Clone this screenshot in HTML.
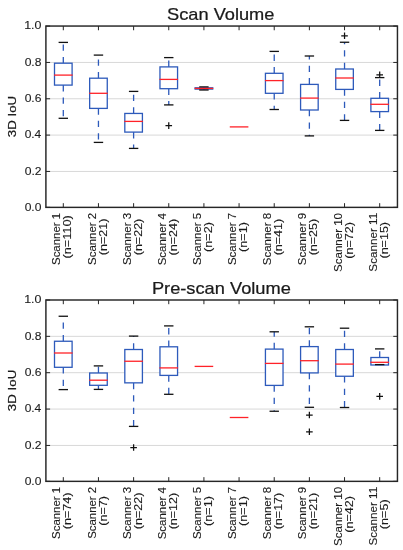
<!DOCTYPE html>
<html><head><meta charset="utf-8"><style>
html,body{margin:0;padding:0;background:#fff;width:403px;height:550px;overflow:hidden}
svg{display:block;will-change:transform;filter:blur(0.3px)}
text{font-family:"Liberation Sans",sans-serif;fill:#1a1a1a;stroke:#1a1a1a;stroke-width:0.1px}
.t{stroke-width:0.24px}
.yl{stroke-width:0.2px}
</style></head><body>
<svg width="403" height="550" viewBox="0 0 403 550">
<rect width="403" height="550" fill="#fff"/>
<line x1="45.9" x2="397.45" y1="62.44" y2="62.44" stroke="#d8d8d8" stroke-width="1"/>
<line x1="45.9" x2="397.45" y1="98.77" y2="98.77" stroke="#d8d8d8" stroke-width="1"/>
<line x1="45.9" x2="397.45" y1="135.10" y2="135.10" stroke="#d8d8d8" stroke-width="1"/>
<line x1="45.9" x2="397.45" y1="171.44" y2="171.44" stroke="#d8d8d8" stroke-width="1"/>
<line x1="63.30" x2="63.30" y1="85.10" y2="118.30" stroke="#2d5abb" stroke-width="1.3" stroke-dasharray="6.3 6.1"/>
<line x1="63.30" x2="63.30" y1="63.20" y2="42.40" stroke="#2d5abb" stroke-width="1.3" stroke-dasharray="6.3 6.1"/>
<rect x="54.50" y="63.20" width="17.6" height="21.90" fill="#fff" stroke="#2d5abb" stroke-width="1.3"/>
<line x1="58.60" x2="68.00" y1="42.40" y2="42.40" stroke="#111111" stroke-width="1.3"/>
<line x1="58.60" x2="68.00" y1="118.30" y2="118.30" stroke="#111111" stroke-width="1.3"/>
<line x1="54.00" x2="72.60" y1="75.10" y2="75.10" stroke="#ff2228" stroke-width="1.3"/>
<line x1="98.45" x2="98.45" y1="108.40" y2="142.40" stroke="#2d5abb" stroke-width="1.3" stroke-dasharray="6.3 6.1"/>
<line x1="98.45" x2="98.45" y1="78.20" y2="55.10" stroke="#2d5abb" stroke-width="1.3" stroke-dasharray="6.3 6.1"/>
<rect x="89.66" y="78.20" width="17.6" height="30.20" fill="#fff" stroke="#2d5abb" stroke-width="1.3"/>
<line x1="93.75" x2="103.16" y1="55.10" y2="55.10" stroke="#111111" stroke-width="1.3"/>
<line x1="93.75" x2="103.16" y1="142.40" y2="142.40" stroke="#111111" stroke-width="1.3"/>
<line x1="89.16" x2="107.75" y1="93.30" y2="93.30" stroke="#ff2228" stroke-width="1.3"/>
<line x1="133.61" x2="133.61" y1="132.10" y2="148.40" stroke="#2d5abb" stroke-width="1.3" stroke-dasharray="6.3 6.1"/>
<line x1="133.61" x2="133.61" y1="113.45" y2="91.40" stroke="#2d5abb" stroke-width="1.3" stroke-dasharray="6.3 6.1"/>
<rect x="124.81" y="113.45" width="17.6" height="18.65" fill="#fff" stroke="#2d5abb" stroke-width="1.3"/>
<line x1="128.91" x2="138.31" y1="91.40" y2="91.40" stroke="#111111" stroke-width="1.3"/>
<line x1="128.91" x2="138.31" y1="148.40" y2="148.40" stroke="#111111" stroke-width="1.3"/>
<line x1="124.31" x2="142.91" y1="121.40" y2="121.40" stroke="#ff2228" stroke-width="1.3"/>
<line x1="168.76" x2="168.76" y1="88.70" y2="104.90" stroke="#2d5abb" stroke-width="1.3" stroke-dasharray="6.3 6.1"/>
<line x1="168.76" x2="168.76" y1="66.90" y2="57.60" stroke="#2d5abb" stroke-width="1.3" stroke-dasharray="6.3 6.1"/>
<rect x="159.96" y="66.90" width="17.6" height="21.80" fill="#fff" stroke="#2d5abb" stroke-width="1.3"/>
<line x1="164.06" x2="173.46" y1="57.60" y2="57.60" stroke="#111111" stroke-width="1.3"/>
<line x1="164.06" x2="173.46" y1="104.90" y2="104.90" stroke="#111111" stroke-width="1.3"/>
<line x1="159.46" x2="178.06" y1="79.40" y2="79.40" stroke="#ff2228" stroke-width="1.3"/>
<path d="M165.46 125.60H172.06M168.76 122.30V128.90" stroke="#111111" stroke-width="1.25"/>
<line x1="203.92" x2="203.92" y1="89.10" y2="90.00" stroke="#2d5abb" stroke-width="1.3" stroke-dasharray="6.3 6.1"/>
<line x1="203.92" x2="203.92" y1="87.80" y2="86.90" stroke="#2d5abb" stroke-width="1.3" stroke-dasharray="6.3 6.1"/>
<rect x="195.12" y="87.80" width="17.6" height="1.30" fill="#fff" stroke="#2d5abb" stroke-width="1.3"/>
<line x1="199.22" x2="208.62" y1="86.90" y2="86.90" stroke="#111111" stroke-width="1.3"/>
<line x1="199.22" x2="208.62" y1="90.00" y2="90.00" stroke="#111111" stroke-width="1.3"/>
<line x1="194.62" x2="213.22" y1="88.40" y2="88.40" stroke="#ff2228" stroke-width="1.3"/>
<line x1="229.77" x2="248.38" y1="126.90" y2="126.90" stroke="#ff2228" stroke-width="1.3"/>
<line x1="274.23" x2="274.23" y1="93.30" y2="109.50" stroke="#2d5abb" stroke-width="1.3" stroke-dasharray="6.3 6.1"/>
<line x1="274.23" x2="274.23" y1="73.30" y2="51.40" stroke="#2d5abb" stroke-width="1.3" stroke-dasharray="6.3 6.1"/>
<rect x="265.43" y="73.30" width="17.6" height="20.00" fill="#fff" stroke="#2d5abb" stroke-width="1.3"/>
<line x1="269.53" x2="278.93" y1="51.40" y2="51.40" stroke="#111111" stroke-width="1.3"/>
<line x1="269.53" x2="278.93" y1="109.50" y2="109.50" stroke="#111111" stroke-width="1.3"/>
<line x1="264.93" x2="283.53" y1="80.60" y2="80.60" stroke="#ff2228" stroke-width="1.3"/>
<line x1="309.38" x2="309.38" y1="110.00" y2="135.90" stroke="#2d5abb" stroke-width="1.3" stroke-dasharray="6.3 6.1"/>
<line x1="309.38" x2="309.38" y1="84.40" y2="56.00" stroke="#2d5abb" stroke-width="1.3" stroke-dasharray="6.3 6.1"/>
<rect x="300.58" y="84.40" width="17.6" height="25.60" fill="#fff" stroke="#2d5abb" stroke-width="1.3"/>
<line x1="304.69" x2="314.08" y1="56.00" y2="56.00" stroke="#111111" stroke-width="1.3"/>
<line x1="304.69" x2="314.08" y1="135.90" y2="135.90" stroke="#111111" stroke-width="1.3"/>
<line x1="300.08" x2="318.69" y1="98.10" y2="98.10" stroke="#ff2228" stroke-width="1.3"/>
<line x1="344.54" x2="344.54" y1="89.40" y2="120.40" stroke="#2d5abb" stroke-width="1.3" stroke-dasharray="6.3 6.1"/>
<line x1="344.54" x2="344.54" y1="69.00" y2="42.25" stroke="#2d5abb" stroke-width="1.3" stroke-dasharray="6.3 6.1"/>
<rect x="335.74" y="69.00" width="17.6" height="20.40" fill="#fff" stroke="#2d5abb" stroke-width="1.3"/>
<line x1="339.84" x2="349.24" y1="42.25" y2="42.25" stroke="#111111" stroke-width="1.3"/>
<line x1="339.84" x2="349.24" y1="120.40" y2="120.40" stroke="#111111" stroke-width="1.3"/>
<line x1="335.24" x2="353.84" y1="78.00" y2="78.00" stroke="#ff2228" stroke-width="1.3"/>
<path d="M341.24 35.80H347.84M344.54 32.50V39.10" stroke="#111111" stroke-width="1.25"/>
<line x1="379.69" x2="379.69" y1="111.60" y2="130.40" stroke="#2d5abb" stroke-width="1.3" stroke-dasharray="6.3 6.1"/>
<line x1="379.69" x2="379.69" y1="98.30" y2="77.60" stroke="#2d5abb" stroke-width="1.3" stroke-dasharray="6.3 6.1"/>
<rect x="370.89" y="98.30" width="17.6" height="13.30" fill="#fff" stroke="#2d5abb" stroke-width="1.3"/>
<line x1="375.00" x2="384.39" y1="77.60" y2="77.60" stroke="#111111" stroke-width="1.3"/>
<line x1="375.00" x2="384.39" y1="130.40" y2="130.40" stroke="#111111" stroke-width="1.3"/>
<line x1="370.39" x2="389.00" y1="104.30" y2="104.30" stroke="#ff2228" stroke-width="1.3"/>
<path d="M376.39 74.75H383.00M379.69 71.45V78.05" stroke="#111111" stroke-width="1.25"/>
<rect x="45.9" y="26.05" width="351.55" height="181.32" fill="none" stroke="#262626" stroke-width="1.45"/>
<line x1="63.30" x2="63.30" y1="26.05" y2="30.25" stroke="#262626" stroke-width="1"/>
<line x1="63.30" x2="63.30" y1="207.37" y2="203.17" stroke="#262626" stroke-width="1"/>
<line x1="98.45" x2="98.45" y1="26.05" y2="30.25" stroke="#262626" stroke-width="1"/>
<line x1="98.45" x2="98.45" y1="207.37" y2="203.17" stroke="#262626" stroke-width="1"/>
<line x1="133.61" x2="133.61" y1="26.05" y2="30.25" stroke="#262626" stroke-width="1"/>
<line x1="133.61" x2="133.61" y1="207.37" y2="203.17" stroke="#262626" stroke-width="1"/>
<line x1="168.76" x2="168.76" y1="26.05" y2="30.25" stroke="#262626" stroke-width="1"/>
<line x1="168.76" x2="168.76" y1="207.37" y2="203.17" stroke="#262626" stroke-width="1"/>
<line x1="203.92" x2="203.92" y1="26.05" y2="30.25" stroke="#262626" stroke-width="1"/>
<line x1="203.92" x2="203.92" y1="207.37" y2="203.17" stroke="#262626" stroke-width="1"/>
<line x1="239.07" x2="239.07" y1="26.05" y2="30.25" stroke="#262626" stroke-width="1"/>
<line x1="239.07" x2="239.07" y1="207.37" y2="203.17" stroke="#262626" stroke-width="1"/>
<line x1="274.23" x2="274.23" y1="26.05" y2="30.25" stroke="#262626" stroke-width="1"/>
<line x1="274.23" x2="274.23" y1="207.37" y2="203.17" stroke="#262626" stroke-width="1"/>
<line x1="309.38" x2="309.38" y1="26.05" y2="30.25" stroke="#262626" stroke-width="1"/>
<line x1="309.38" x2="309.38" y1="207.37" y2="203.17" stroke="#262626" stroke-width="1"/>
<line x1="344.54" x2="344.54" y1="26.05" y2="30.25" stroke="#262626" stroke-width="1"/>
<line x1="344.54" x2="344.54" y1="207.37" y2="203.17" stroke="#262626" stroke-width="1"/>
<line x1="379.69" x2="379.69" y1="26.05" y2="30.25" stroke="#262626" stroke-width="1"/>
<line x1="379.69" x2="379.69" y1="207.37" y2="203.17" stroke="#262626" stroke-width="1"/>
<line x1="45.9" x2="50.1" y1="207.37" y2="207.37" stroke="#262626" stroke-width="1"/>
<line x1="397.45" x2="393.25" y1="207.37" y2="207.37" stroke="#262626" stroke-width="1"/>
<text transform="translate(24.63 210.62) scale(1.0948 1)" font-size="11.00">0.0</text>
<line x1="45.9" x2="50.1" y1="171.44" y2="171.44" stroke="#262626" stroke-width="1"/>
<line x1="397.45" x2="393.25" y1="171.44" y2="171.44" stroke="#262626" stroke-width="1"/>
<text transform="translate(24.63 174.69) scale(1.1040 1)" font-size="11.00">0.2</text>
<line x1="45.9" x2="50.1" y1="135.10" y2="135.10" stroke="#262626" stroke-width="1"/>
<line x1="397.45" x2="393.25" y1="135.10" y2="135.10" stroke="#262626" stroke-width="1"/>
<text transform="translate(24.63 138.35) scale(1.0865 1)" font-size="11.00">0.4</text>
<line x1="45.9" x2="50.1" y1="98.77" y2="98.77" stroke="#262626" stroke-width="1"/>
<line x1="397.45" x2="393.25" y1="98.77" y2="98.77" stroke="#262626" stroke-width="1"/>
<text transform="translate(24.63 102.02) scale(1.0990 1)" font-size="11.00">0.6</text>
<line x1="45.9" x2="50.1" y1="62.44" y2="62.44" stroke="#262626" stroke-width="1"/>
<line x1="397.45" x2="393.25" y1="62.44" y2="62.44" stroke="#262626" stroke-width="1"/>
<text transform="translate(24.63 65.69) scale(1.0981 1)" font-size="11.00">0.8</text>
<line x1="45.9" x2="50.1" y1="26.05" y2="26.05" stroke="#262626" stroke-width="1"/>
<line x1="397.45" x2="393.25" y1="26.05" y2="26.05" stroke="#262626" stroke-width="1"/>
<text transform="translate(24.16 29.30) scale(1.1266 1)" font-size="11.00">1.0</text>
<text transform="translate(167.06 20.25) scale(1.1256 1)" font-size="16.20" class="t">Scan Volume</text>
<text transform="translate(16.20 137.17) rotate(-90) scale(1.1379 1)" font-size="11.70" class="yl">3D IoU</text>
<text transform="translate(60.40 264.98) rotate(-90) scale(1.1112 1)" font-size="10.30">Scanner 1</text>
<text transform="translate(71.40 258.54) rotate(-90) scale(1.2533 1)" font-size="10.15">(n=110)</text>
<text transform="translate(95.55 264.89) rotate(-90) scale(1.1096 1)" font-size="10.30">Scanner 2</text>
<text transform="translate(106.55 255.16) rotate(-90) scale(1.2352 1)" font-size="10.15">(n=21)</text>
<text transform="translate(130.71 265.10) rotate(-90) scale(1.1127 1)" font-size="10.30">Scanner 3</text>
<text transform="translate(141.71 255.26) rotate(-90) scale(1.2352 1)" font-size="10.15">(n=22)</text>
<text transform="translate(165.86 265.35) rotate(-90) scale(1.1144 1)" font-size="10.30">Scanner 4</text>
<text transform="translate(176.86 255.39) rotate(-90) scale(1.2352 1)" font-size="10.15">(n=24)</text>
<text transform="translate(201.02 265.02) rotate(-90) scale(1.1103 1)" font-size="10.30">Scanner 5</text>
<text transform="translate(212.02 251.91) rotate(-90) scale(1.2495 1)" font-size="10.15">(n=2)</text>
<text transform="translate(236.17 265.04) rotate(-90) scale(1.1128 1)" font-size="10.30">Scanner 7</text>
<text transform="translate(247.17 251.92) rotate(-90) scale(1.2495 1)" font-size="10.15">(n=1)</text>
<text transform="translate(271.33 265.23) rotate(-90) scale(1.1151 1)" font-size="10.30">Scanner 8</text>
<text transform="translate(282.33 255.33) rotate(-90) scale(1.2352 1)" font-size="10.15">(n=41)</text>
<text transform="translate(306.49 265.21) rotate(-90) scale(1.1157 1)" font-size="10.30">Scanner 9</text>
<text transform="translate(317.49 255.32) rotate(-90) scale(1.2352 1)" font-size="10.15">(n=25)</text>
<text transform="translate(341.64 271.90) rotate(-90) scale(1.1194 1)" font-size="10.30">Scanner 10</text>
<text transform="translate(352.64 258.66) rotate(-90) scale(1.2352 1)" font-size="10.15">(n=72)</text>
<text transform="translate(376.80 271.63) rotate(-90) scale(1.1334 1)" font-size="10.30">Scanner 11</text>
<text transform="translate(387.80 258.52) rotate(-90) scale(1.2352 1)" font-size="10.15">(n=15)</text>
<line x1="45.9" x2="397.45" y1="336.35" y2="336.35" stroke="#d8d8d8" stroke-width="1"/>
<line x1="45.9" x2="397.45" y1="372.70" y2="372.70" stroke="#d8d8d8" stroke-width="1"/>
<line x1="45.9" x2="397.45" y1="409.07" y2="409.07" stroke="#d8d8d8" stroke-width="1"/>
<line x1="45.9" x2="397.45" y1="445.44" y2="445.44" stroke="#d8d8d8" stroke-width="1"/>
<line x1="63.30" x2="63.30" y1="367.30" y2="389.60" stroke="#2d5abb" stroke-width="1.3" stroke-dasharray="6.3 6.1"/>
<line x1="63.30" x2="63.30" y1="341.25" y2="316.25" stroke="#2d5abb" stroke-width="1.3" stroke-dasharray="6.3 6.1"/>
<rect x="54.50" y="341.25" width="17.6" height="26.05" fill="#fff" stroke="#2d5abb" stroke-width="1.3"/>
<line x1="58.60" x2="68.00" y1="316.25" y2="316.25" stroke="#111111" stroke-width="1.3"/>
<line x1="58.60" x2="68.00" y1="389.60" y2="389.60" stroke="#111111" stroke-width="1.3"/>
<line x1="54.00" x2="72.60" y1="353.00" y2="353.00" stroke="#ff2228" stroke-width="1.3"/>
<line x1="98.45" x2="98.45" y1="385.30" y2="389.40" stroke="#2d5abb" stroke-width="1.3" stroke-dasharray="6.3 6.1"/>
<line x1="98.45" x2="98.45" y1="373.00" y2="365.90" stroke="#2d5abb" stroke-width="1.3" stroke-dasharray="6.3 6.1"/>
<rect x="89.66" y="373.00" width="17.6" height="12.30" fill="#fff" stroke="#2d5abb" stroke-width="1.3"/>
<line x1="93.75" x2="103.16" y1="365.90" y2="365.90" stroke="#111111" stroke-width="1.3"/>
<line x1="93.75" x2="103.16" y1="389.40" y2="389.40" stroke="#111111" stroke-width="1.3"/>
<line x1="89.16" x2="107.75" y1="380.20" y2="380.20" stroke="#ff2228" stroke-width="1.3"/>
<line x1="133.61" x2="133.61" y1="382.85" y2="426.40" stroke="#2d5abb" stroke-width="1.3" stroke-dasharray="6.3 6.1"/>
<line x1="133.61" x2="133.61" y1="349.50" y2="336.10" stroke="#2d5abb" stroke-width="1.3" stroke-dasharray="6.3 6.1"/>
<rect x="124.81" y="349.50" width="17.6" height="33.35" fill="#fff" stroke="#2d5abb" stroke-width="1.3"/>
<line x1="128.91" x2="138.31" y1="336.10" y2="336.10" stroke="#111111" stroke-width="1.3"/>
<line x1="128.91" x2="138.31" y1="426.40" y2="426.40" stroke="#111111" stroke-width="1.3"/>
<line x1="124.31" x2="142.91" y1="361.25" y2="361.25" stroke="#ff2228" stroke-width="1.3"/>
<path d="M130.31 447.50H136.91M133.61 444.20V450.80" stroke="#111111" stroke-width="1.25"/>
<line x1="168.76" x2="168.76" y1="375.40" y2="394.30" stroke="#2d5abb" stroke-width="1.3" stroke-dasharray="6.3 6.1"/>
<line x1="168.76" x2="168.76" y1="346.80" y2="325.90" stroke="#2d5abb" stroke-width="1.3" stroke-dasharray="6.3 6.1"/>
<rect x="159.96" y="346.80" width="17.6" height="28.60" fill="#fff" stroke="#2d5abb" stroke-width="1.3"/>
<line x1="164.06" x2="173.46" y1="325.90" y2="325.90" stroke="#111111" stroke-width="1.3"/>
<line x1="164.06" x2="173.46" y1="394.30" y2="394.30" stroke="#111111" stroke-width="1.3"/>
<line x1="159.46" x2="178.06" y1="367.90" y2="367.90" stroke="#ff2228" stroke-width="1.3"/>
<line x1="194.62" x2="213.22" y1="366.40" y2="366.40" stroke="#ff2228" stroke-width="1.3"/>
<line x1="229.77" x2="248.38" y1="417.50" y2="417.50" stroke="#ff2228" stroke-width="1.3"/>
<line x1="274.23" x2="274.23" y1="385.40" y2="411.25" stroke="#2d5abb" stroke-width="1.3" stroke-dasharray="6.3 6.1"/>
<line x1="274.23" x2="274.23" y1="349.10" y2="331.80" stroke="#2d5abb" stroke-width="1.3" stroke-dasharray="6.3 6.1"/>
<rect x="265.43" y="349.10" width="17.6" height="36.30" fill="#fff" stroke="#2d5abb" stroke-width="1.3"/>
<line x1="269.53" x2="278.93" y1="331.80" y2="331.80" stroke="#111111" stroke-width="1.3"/>
<line x1="269.53" x2="278.93" y1="411.25" y2="411.25" stroke="#111111" stroke-width="1.3"/>
<line x1="264.93" x2="283.53" y1="363.40" y2="363.40" stroke="#ff2228" stroke-width="1.3"/>
<line x1="309.38" x2="309.38" y1="372.90" y2="407.30" stroke="#2d5abb" stroke-width="1.3" stroke-dasharray="6.3 6.1"/>
<line x1="309.38" x2="309.38" y1="346.60" y2="326.80" stroke="#2d5abb" stroke-width="1.3" stroke-dasharray="6.3 6.1"/>
<rect x="300.58" y="346.60" width="17.6" height="26.30" fill="#fff" stroke="#2d5abb" stroke-width="1.3"/>
<line x1="304.69" x2="314.08" y1="326.80" y2="326.80" stroke="#111111" stroke-width="1.3"/>
<line x1="304.69" x2="314.08" y1="407.30" y2="407.30" stroke="#111111" stroke-width="1.3"/>
<line x1="300.08" x2="318.69" y1="360.70" y2="360.70" stroke="#ff2228" stroke-width="1.3"/>
<path d="M306.08 415.00H312.69M309.38 411.70V418.30" stroke="#111111" stroke-width="1.25"/>
<path d="M306.08 431.80H312.69M309.38 428.50V435.10" stroke="#111111" stroke-width="1.25"/>
<line x1="344.54" x2="344.54" y1="376.25" y2="407.50" stroke="#2d5abb" stroke-width="1.3" stroke-dasharray="6.3 6.1"/>
<line x1="344.54" x2="344.54" y1="349.50" y2="328.20" stroke="#2d5abb" stroke-width="1.3" stroke-dasharray="6.3 6.1"/>
<rect x="335.74" y="349.50" width="17.6" height="26.75" fill="#fff" stroke="#2d5abb" stroke-width="1.3"/>
<line x1="339.84" x2="349.24" y1="328.20" y2="328.20" stroke="#111111" stroke-width="1.3"/>
<line x1="339.84" x2="349.24" y1="407.50" y2="407.50" stroke="#111111" stroke-width="1.3"/>
<line x1="335.24" x2="353.84" y1="364.10" y2="364.10" stroke="#ff2228" stroke-width="1.3"/>
<line x1="379.69" x2="379.69" y1="365.00" y2="364.60" stroke="#2d5abb" stroke-width="1.3" stroke-dasharray="6.3 6.1"/>
<line x1="379.69" x2="379.69" y1="357.50" y2="348.90" stroke="#2d5abb" stroke-width="1.3" stroke-dasharray="6.3 6.1"/>
<rect x="370.89" y="357.50" width="17.6" height="7.50" fill="#fff" stroke="#2d5abb" stroke-width="1.3"/>
<line x1="375.00" x2="384.39" y1="348.90" y2="348.90" stroke="#111111" stroke-width="1.3"/>
<line x1="375.00" x2="384.39" y1="364.60" y2="364.60" stroke="#111111" stroke-width="1.3"/>
<line x1="370.39" x2="389.00" y1="362.30" y2="362.30" stroke="#ff2228" stroke-width="1.3"/>
<path d="M376.39 396.40H383.00M379.69 393.10V399.70" stroke="#111111" stroke-width="1.25"/>
<rect x="45.9" y="300.0" width="351.55" height="181.35" fill="none" stroke="#262626" stroke-width="1.45"/>
<line x1="63.30" x2="63.30" y1="300.0" y2="304.20" stroke="#262626" stroke-width="1"/>
<line x1="63.30" x2="63.30" y1="481.35" y2="477.15" stroke="#262626" stroke-width="1"/>
<line x1="98.45" x2="98.45" y1="300.0" y2="304.20" stroke="#262626" stroke-width="1"/>
<line x1="98.45" x2="98.45" y1="481.35" y2="477.15" stroke="#262626" stroke-width="1"/>
<line x1="133.61" x2="133.61" y1="300.0" y2="304.20" stroke="#262626" stroke-width="1"/>
<line x1="133.61" x2="133.61" y1="481.35" y2="477.15" stroke="#262626" stroke-width="1"/>
<line x1="168.76" x2="168.76" y1="300.0" y2="304.20" stroke="#262626" stroke-width="1"/>
<line x1="168.76" x2="168.76" y1="481.35" y2="477.15" stroke="#262626" stroke-width="1"/>
<line x1="203.92" x2="203.92" y1="300.0" y2="304.20" stroke="#262626" stroke-width="1"/>
<line x1="203.92" x2="203.92" y1="481.35" y2="477.15" stroke="#262626" stroke-width="1"/>
<line x1="239.07" x2="239.07" y1="300.0" y2="304.20" stroke="#262626" stroke-width="1"/>
<line x1="239.07" x2="239.07" y1="481.35" y2="477.15" stroke="#262626" stroke-width="1"/>
<line x1="274.23" x2="274.23" y1="300.0" y2="304.20" stroke="#262626" stroke-width="1"/>
<line x1="274.23" x2="274.23" y1="481.35" y2="477.15" stroke="#262626" stroke-width="1"/>
<line x1="309.38" x2="309.38" y1="300.0" y2="304.20" stroke="#262626" stroke-width="1"/>
<line x1="309.38" x2="309.38" y1="481.35" y2="477.15" stroke="#262626" stroke-width="1"/>
<line x1="344.54" x2="344.54" y1="300.0" y2="304.20" stroke="#262626" stroke-width="1"/>
<line x1="344.54" x2="344.54" y1="481.35" y2="477.15" stroke="#262626" stroke-width="1"/>
<line x1="379.69" x2="379.69" y1="300.0" y2="304.20" stroke="#262626" stroke-width="1"/>
<line x1="379.69" x2="379.69" y1="481.35" y2="477.15" stroke="#262626" stroke-width="1"/>
<line x1="45.9" x2="50.1" y1="481.35" y2="481.35" stroke="#262626" stroke-width="1"/>
<line x1="397.45" x2="393.25" y1="481.35" y2="481.35" stroke="#262626" stroke-width="1"/>
<text transform="translate(24.63 484.60) scale(1.0948 1)" font-size="11.00">0.0</text>
<line x1="45.9" x2="50.1" y1="445.44" y2="445.44" stroke="#262626" stroke-width="1"/>
<line x1="397.45" x2="393.25" y1="445.44" y2="445.44" stroke="#262626" stroke-width="1"/>
<text transform="translate(24.63 448.69) scale(1.1040 1)" font-size="11.00">0.2</text>
<line x1="45.9" x2="50.1" y1="409.07" y2="409.07" stroke="#262626" stroke-width="1"/>
<line x1="397.45" x2="393.25" y1="409.07" y2="409.07" stroke="#262626" stroke-width="1"/>
<text transform="translate(24.63 412.32) scale(1.0865 1)" font-size="11.00">0.4</text>
<line x1="45.9" x2="50.1" y1="372.70" y2="372.70" stroke="#262626" stroke-width="1"/>
<line x1="397.45" x2="393.25" y1="372.70" y2="372.70" stroke="#262626" stroke-width="1"/>
<text transform="translate(24.63 375.95) scale(1.0990 1)" font-size="11.00">0.6</text>
<line x1="45.9" x2="50.1" y1="336.35" y2="336.35" stroke="#262626" stroke-width="1"/>
<line x1="397.45" x2="393.25" y1="336.35" y2="336.35" stroke="#262626" stroke-width="1"/>
<text transform="translate(24.63 339.60) scale(1.0981 1)" font-size="11.00">0.8</text>
<line x1="45.9" x2="50.1" y1="300.00" y2="300.00" stroke="#262626" stroke-width="1"/>
<line x1="397.45" x2="393.25" y1="300.00" y2="300.00" stroke="#262626" stroke-width="1"/>
<text transform="translate(24.16 303.25) scale(1.1266 1)" font-size="11.00">1.0</text>
<text transform="translate(151.90 294.15) scale(1.1268 1)" font-size="16.20" class="t">Pre-scan Volume</text>
<text transform="translate(16.20 411.13) rotate(-90) scale(1.1379 1)" font-size="11.70" class="yl">3D IoU</text>
<text transform="translate(60.40 538.96) rotate(-90) scale(1.1112 1)" font-size="10.30">Scanner 1</text>
<text transform="translate(71.40 529.18) rotate(-90) scale(1.2352 1)" font-size="10.15">(n=74)</text>
<text transform="translate(95.55 538.87) rotate(-90) scale(1.1096 1)" font-size="10.30">Scanner 2</text>
<text transform="translate(106.55 525.83) rotate(-90) scale(1.2495 1)" font-size="10.15">(n=7)</text>
<text transform="translate(130.71 539.08) rotate(-90) scale(1.1127 1)" font-size="10.30">Scanner 3</text>
<text transform="translate(141.71 529.24) rotate(-90) scale(1.2352 1)" font-size="10.15">(n=22)</text>
<text transform="translate(165.86 539.33) rotate(-90) scale(1.1144 1)" font-size="10.30">Scanner 4</text>
<text transform="translate(176.86 529.37) rotate(-90) scale(1.2352 1)" font-size="10.15">(n=12)</text>
<text transform="translate(201.02 539.00) rotate(-90) scale(1.1103 1)" font-size="10.30">Scanner 5</text>
<text transform="translate(212.02 525.89) rotate(-90) scale(1.2495 1)" font-size="10.15">(n=1)</text>
<text transform="translate(236.17 539.02) rotate(-90) scale(1.1128 1)" font-size="10.30">Scanner 7</text>
<text transform="translate(247.17 525.90) rotate(-90) scale(1.2495 1)" font-size="10.15">(n=1)</text>
<text transform="translate(271.33 539.21) rotate(-90) scale(1.1151 1)" font-size="10.30">Scanner 8</text>
<text transform="translate(282.33 529.31) rotate(-90) scale(1.2352 1)" font-size="10.15">(n=17)</text>
<text transform="translate(306.49 539.19) rotate(-90) scale(1.1157 1)" font-size="10.30">Scanner 9</text>
<text transform="translate(317.49 529.30) rotate(-90) scale(1.2352 1)" font-size="10.15">(n=21)</text>
<text transform="translate(341.64 545.88) rotate(-90) scale(1.1194 1)" font-size="10.30">Scanner 10</text>
<text transform="translate(352.64 532.64) rotate(-90) scale(1.2352 1)" font-size="10.15">(n=42)</text>
<text transform="translate(376.80 545.61) rotate(-90) scale(1.1334 1)" font-size="10.30">Scanner 11</text>
<text transform="translate(387.80 529.19) rotate(-90) scale(1.2495 1)" font-size="10.15">(n=5)</text>
</svg></body></html>
